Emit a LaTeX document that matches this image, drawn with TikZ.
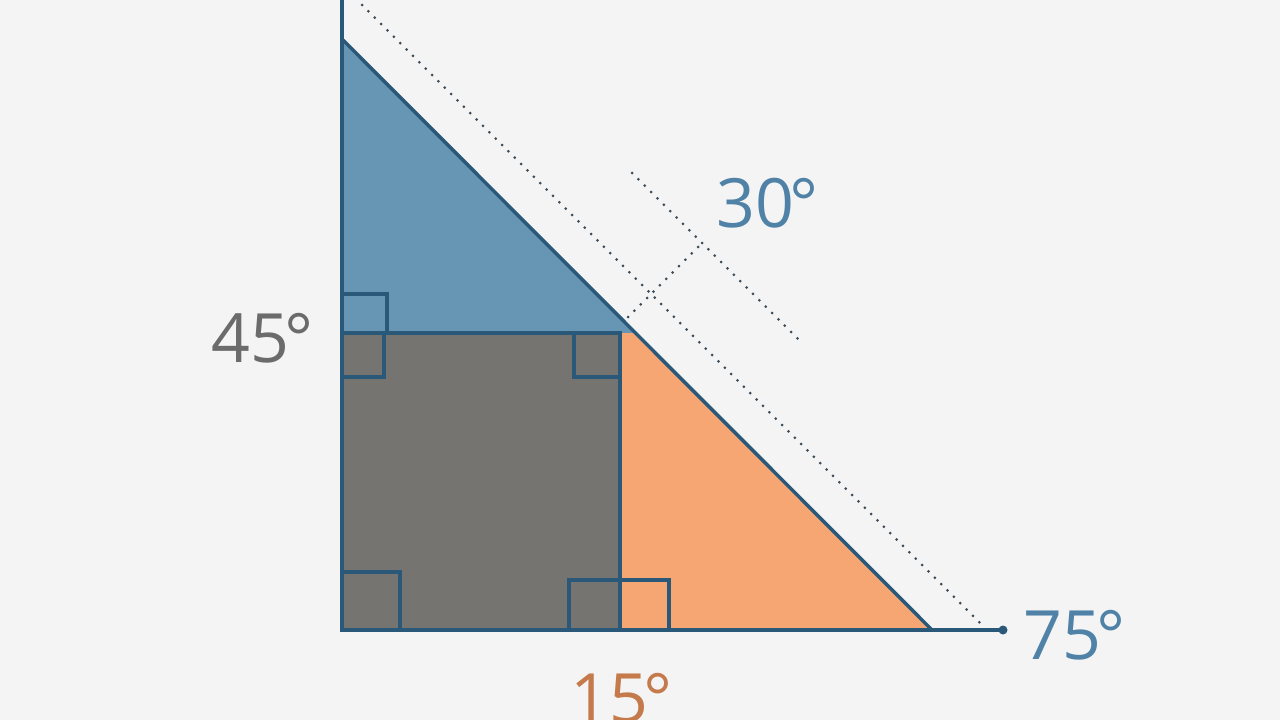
\documentclass[tikz,border=0pt]{standalone}
\usepackage{fontspec}
\setmainfont{Open Sans}
\definecolor{bg}{HTML}{F4F4F4}
\definecolor{edge}{HTML}{2A5878}
\definecolor{bluefill}{HTML}{6796B4}
\definecolor{grayfill}{HTML}{767470}
\definecolor{orangefill}{HTML}{F6A673}
\definecolor{dotc}{HTML}{3D4B57}
\definecolor{bluetext}{HTML}{4F82A6}
\definecolor{graytext}{HTML}{6B6B6B}
\definecolor{orangetext}{HTML}{C47A4A}
\newcommand{\dg}{\kern-5pt°}
\tikzset{
  outline/.style={draw=edge, line width=3.5pt, line cap=butt, line join=miter},
  rightmark/.style={draw=edge, line width=3.2pt},
  dotline/.style={draw=dotc, line width=3pt, line cap=round, dash pattern=on 0pt off 9pt},
  anglab/.style={inner sep=0pt, anchor=base west, font=\fontsize{68}{68}\selectfont}
}
\begin{document}
\begin{tikzpicture}[x=1pt,y=-1pt]
\useasboundingbox (0,0) rectangle (1280,720);
\fill[bg] (0,0) rectangle (1280,720);
% fills
\fill[bluefill] (343,40) -- (636,333) -- (343,333) -- cycle;
\fill[grayfill] (343,333) rectangle (620,630);
\fill[orangefill] (620,333) -- (636,333) -- (932,630) -- (620,630) -- cycle;
% right-angle marks
\draw[rightmark] (343,294) -| (387,333);
\draw[rightmark] (343,377) -| (384,333);
\draw[rightmark] (620,377) -| (574,333);
\draw[rightmark] (343,572) -| (400,630);
\draw[rightmark] (620,580) -| (569,630);
\draw[rightmark] (620,580) -| (669,630);
% dotted lines
\coordinate (d1a) at (362,5);
\coordinate (d1b) at (984,627);
\coordinate (d2a) at (632,173);
\coordinate (d2b) at (802,343);
\coordinate (d3a) at (628,317);
\coordinate (d3b) at (702,243);
\draw[dotline] (d1a) -- (d1b);
\draw[dotline] (d2a) -- (d2b);
\draw[dotline] (d3a) -- (d3b);
% outlines
\coordinate (top) at (342,0);
\coordinate (apex) at (343,40);
\coordinate (origin) at (342,630);
\coordinate (foot) at (932,630);
\coordinate (tip) at (1003,630);
\draw[outline] (342,333) -- (620,333) -- (620,630);
\draw[outline] (top) -- (origin) -- (tip);
\draw[outline] (apex) -- (foot);
\fill[edge] (tip) circle (4.5pt);
% labels
\node[anglab, text=graytext] (l45) at (211,362) {45\dg};
\node[anglab, text=bluetext] (l30) at (716,227) {30\dg};
\node[anglab, text=bluetext] (l75) at (1023,659) {75\dg};
\node[anglab, text=orangetext] (l15) at (570,722) {15\dg};
\end{tikzpicture}
\end{document}
